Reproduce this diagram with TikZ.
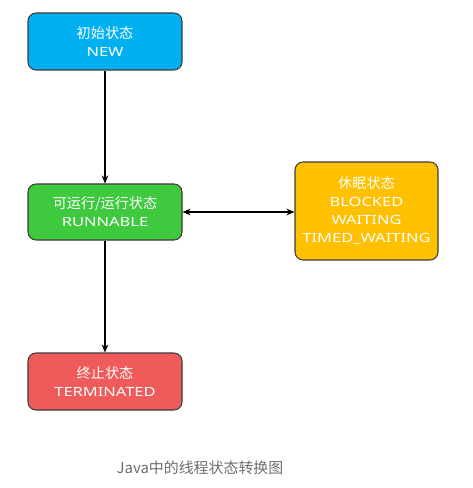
\documentclass[tikz,border=0pt]{standalone}
\usepackage{fontspec}
\setmainfont{Noto Sans CJK SC}
\newfontfamily\lat[FakeStretch=1.3]{Noto Sans}
\usetikzlibrary{arrows.meta}
\definecolor{cnew}{RGB}{0,176,240}
\definecolor{crun}{RGB}{62,201,62}
\definecolor{csleep}{RGB}{255,192,0}
\definecolor{cterm}{RGB}{239,90,90}
\definecolor{cborder}{RGB}{60,60,60}
\definecolor{ccap}{RGB}{110,110,110}
\tikzset{
  state/.style={draw=cborder, line width=0.8pt, rounded corners=6pt, text=white,
    align=center, font=\fontsize{10.6}{13.5}\selectfont, inner sep=0pt},
  conn/.style={-{Stealth[length=6pt,width=5pt]}, line width=1pt, black},
  biconn/.style={{Stealth[length=6pt,width=5pt]}-{Stealth[length=6pt,width=5pt]}, line width=1pt, black}
}
\newcommand{\lt}[1]{{\lat\fontsize{9.5}{13.5}\selectfont #1}}
\begin{document}
\begin{tikzpicture}[x=0.75pt,y=-0.75pt]
\useasboundingbox[fill=white] (0,0) rectangle (473,488);
\node[state, fill=cnew, minimum width=154*0.75pt, minimum height=57*0.75pt] (new) at (105,41.5) {初始状态\\\lt{NEW}};
\node[state, fill=crun, minimum width=154*0.75pt, minimum height=56*0.75pt] (run) at (105,212) {可运行/运行状态\\\lt{RUNNABLE}};
\node[state, fill=csleep, minimum width=143*0.75pt, minimum height=98*0.75pt] (sleep) at (366.5,211) {休眠状态\\\lt{BLOCKED}\\\lt{WAITING}\\\lt{TIMED\_WAITING}};
\node[state, fill=cterm, minimum width=154*0.75pt, minimum height=57*0.75pt] (term) at (105,381.5) {终止状态\\\lt{TERMINATED}};
\node[text=ccap, font=\fontsize{11.2}{12}\selectfont, inner sep=0pt] (cap) at (200,468) {Java中的线程状态转换图};
\draw[conn] (new) -- (run);
\draw[conn] (run) -- (term);
\draw[biconn] (run.east) -- (sleep.west |- run.east);
\end{tikzpicture}
\end{document}
